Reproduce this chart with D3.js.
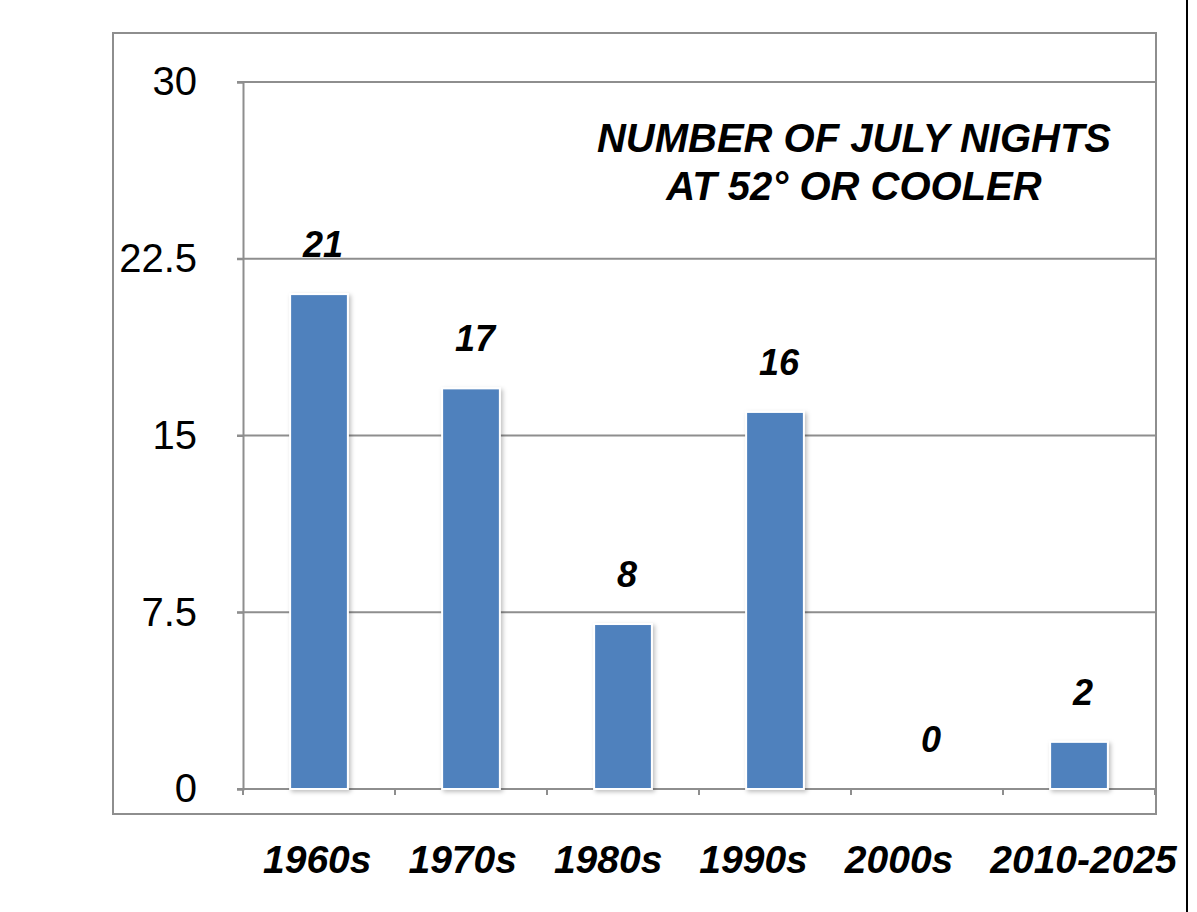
<!doctype html>
<html lang="en">
<head>
	<meta charset="UTF-8">
	<title>July nights at 52 or cooler</title>
	<style>
		html, body { margin: 0; padding: 0; background: #fff; }
		svg { display: block; }
		text { font-family: "Liberation Sans", Arial, Helvetica, sans-serif; fill: #000; }
	</style>
</head>
<body>
	<script src="https://cdn.jsdelivr.net/npm/d3@7/dist/d3.min.js"></script>
	<script>
		// data
		var decades = ['1960s', '1970s', '1980s', '1990s', '2000s', '2010-2025'];
		var nights = [21, 17, 7, 16, 0, 2];            // bar heights
		var nightLabels = ['21', '17', '8', '16', '0', '2']; // labels as printed
		var yTicks = [0, 7.5, 15, 22.5, 30];
		var titleLines = ['NUMBER OF JULY NIGHTS', 'AT 52\u00B0 OR COOLER'];

		var w = 1197,
			h = 912,
			plotLeft = 243,
			plotRight = 1155,
			plotTop = 82,
			plotBottom = 789;

		var x = d3.scaleBand()
			.domain(decades)
			.range([plotLeft, plotRight])
			.paddingInner(0.62)
			.paddingOuter(0.31);

		var band = d3.scaleBand().domain(decades).range([plotLeft, plotRight]);

		var y = d3.scaleLinear()
			.domain([0, 30])
			.range([plotBottom, plotTop]);

		var svg = d3.select('body')
			.append('svg')
			.attr('width', w)
			.attr('height', h);

		var defs = svg.append('defs');
		defs.append('filter')
			.attr('id', 'shadow')
			.attr('x', '-20%').attr('y', '-20%')
			.attr('width', '150%').attr('height', '150%')
			.append('feDropShadow')
			.attr('dx', 2).attr('dy', 2)
			.attr('stdDeviation', 2)
			.attr('flood-color', '#000')
			.attr('flood-opacity', 0.25);

		// outer frame
		svg.append('rect')
			.attr('x', 113).attr('y', 33)
			.attr('width', 1043).attr('height', 781)
			.attr('fill', 'none')
			.attr('stroke', '#8e8e8e')
			.attr('stroke-width', 2);

		// black line on the right edge
		svg.append('line')
			.attr('x1', 1187).attr('x2', 1187)
			.attr('y1', 0).attr('y2', h)
			.attr('stroke', '#000')
			.attr('stroke-width', 2);

		// gridlines
		svg.append('g')
			.selectAll('line')
			.data(yTicks)
			.enter()
			.append('line')
			.attr('x1', plotLeft - 6)
			.attr('x2', plotRight)
			.attr('y1', function(d) { return y(d); })
			.attr('y2', function(d) { return y(d); })
			.attr('stroke', '#8e8e8e')
			.attr('stroke-width', 2);

		// y axis
		var yAxis = d3.axisLeft(y)
			.tickValues(yTicks)
			.tickFormat(function(d) { return String(d); })
			.tickSize(6)
			.tickPadding(40);

		var gy = svg.append('g')
			.attr('transform', 'translate(' + plotLeft + ',0)')
			.call(yAxis);
		gy.select('.domain').attr('stroke', '#8e8e8e').attr('stroke-width', 2);
		gy.selectAll('.tick line').attr('stroke', '#8e8e8e').attr('stroke-width', 2);
		gy.selectAll('.tick text')
			.attr('font-size', 40)
			.attr('font-family', '"Liberation Sans", Arial, sans-serif')
			.attr('fill', '#000');

		// x axis ticks at band edges
		var edges = decades.map(function(d) { return band(d); }).concat([plotRight]);
		svg.append('g')
			.selectAll('line')
			.data(edges)
			.enter()
			.append('line')
			.attr('x1', function(d) { return d; })
			.attr('x2', function(d) { return d; })
			.attr('y1', plotBottom)
			.attr('y2', plotBottom + 6)
			.attr('stroke', '#8e8e8e')
			.attr('stroke-width', 2);

		// x labels: laid out in a row with an even gap, as in the original
		var xLabels = svg.append('g')
			.selectAll('text')
			.data(decades)
			.enter()
			.append('text')
			.attr('y', 873)
			.attr('font-size', 39)
			.attr('font-weight', 'bold')
			.attr('font-style', 'italic')
			.text(function(d) { return d; });

		var cursor = band(decades[0]) + 20,
			gap = 37;
		xLabels.each(function() {
			d3.select(this).attr('x', cursor);
			cursor += this.getComputedTextLength() + gap;
		});

		// bars
		svg.append('g')
			.selectAll('rect')
			.data(nights)
			.enter()
			.append('rect')
			.attr('x', function(d, i) { return x(decades[i]); })
			.attr('y', function(d) { return y(d); })
			.attr('width', x.bandwidth())
			.attr('height', function(d) { return plotBottom - y(d); })
			.attr('fill', '#4f81bd')
			.attr('stroke', '#fff')
			.attr('stroke-width', 2)
			.attr('filter', 'url(#shadow)')
			.style('display', function(d) { return d > 0 ? null : 'none'; });

		// value labels
		svg.append('g')
			.selectAll('text')
			.data(nights)
			.enter()
			.append('text')
			.attr('x', function(d, i) { return x(decades[i]) + x.bandwidth() / 2 + 4; })
			.attr('y', function(d) { return y(d) - 37; })
			.attr('text-anchor', 'middle')
			.attr('font-size', 36)
			.attr('font-weight', 'bold')
			.attr('font-style', 'italic')
			.text(function(d, i) { return nightLabels[i]; });

		// title
		svg.append('g')
			.selectAll('text')
			.data(titleLines)
			.enter()
			.append('text')
			.attr('x', 854)
			.attr('y', function(d, i) { return 152 + i * 48; })
			.attr('text-anchor', 'middle')
			.attr('font-size', 40)
			.attr('font-weight', 'bold')
			.attr('font-style', 'italic')
			.text(function(d) { return d; });
	</script>
</body>
</html>
